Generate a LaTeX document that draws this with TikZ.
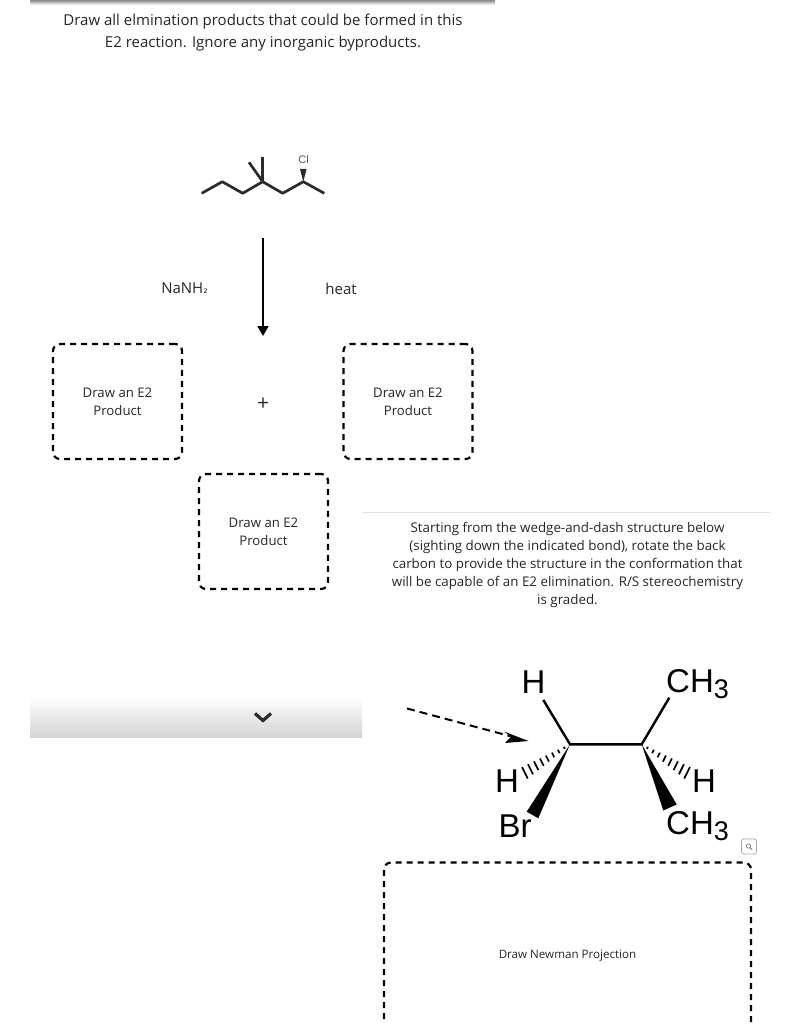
\documentclass[tikz,border=0pt]{standalone}
\usepackage{fontspec}
\setmainfont{Open Sans}
\newfontfamily\chemfont{Liberation Sans}
\newfontfamily\subfont{DejaVu Sans}
\usetikzlibrary{arrows.meta,calc}
\definecolor{ink}{HTML}{2B2B2E}
\definecolor{txt}{HTML}{262626}
\newcommand{\chemsub}[1]{\raisebox{-6pt}{\fontsize{27}{27}\selectfont #1}}
\tikzset{
  prompt/.style={align=center,text=txt,font=\fontsize{15}{21.3}\selectfont,inner sep=0pt},
  small/.style={align=center,text=txt,font=\fontsize{13.2}{18}\selectfont,inner sep=0pt},
  dropbox/.style={draw=black,line width=2.2pt,dash pattern=on 6pt off 5pt,rounded corners=7pt,minimum width=129pt,minimum height=115pt,align=center,text=txt,font=\fontsize{13.2}{18}\selectfont,inner sep=0pt},
  skeleton/.style={draw=ink,line width=2.7pt,line join=round},
  bond/.style={draw=black,line width=2.4pt},
  atom/.style={inner sep=0pt,font=\chemfont\fontsize{33}{33}\selectfont,text=black},
  hashbond/.style={draw=black,line width=1.7pt},
}
\begin{document}
\begin{tikzpicture}[x=1pt,y=-1pt]
\useasboundingbox (0,0) rectangle (793,1024);
\fill[white] (0,0) rectangle (793,1024);
% top and bottom panel bars
\shade[top color=black!45,bottom color=white] (30,0) rectangle (495,5);
\shade[top color=white,bottom color=black!17] (30,697) rectangle (362,737.5);
\draw[black!12,line width=1pt] (363,512) -- (771,512);
% headings
\node[prompt] (title) at (263,32.5) {Draw all elmination products that could be formed in this\\E2 reaction. Ignore any inorganic byproducts.};
\node[small,font=\fontsize{13.35}{18.2}\selectfont] (prompt2) at (567.5,565) {Starting from the wedge-and-dash structure below\\(sighting down the indicated bond), rotate the back\\carbon to provide the structure in the conformation that\\will be capable of an E2 elimination. R/S stereochemistry\\is graded.};
% reactant skeleton
\coordinate (a1) at (201.7,193.3);
\coordinate (a2) at (222.3,181.7);
\coordinate (a3) at (242.7,193.3);
\coordinate (a4) at (262.7,181.7);
\coordinate (a5) at (282.7,193.3);
\coordinate (a6) at (303.3,181.7);
\coordinate (a7) at (324.3,193.3);
\coordinate (m1) at (249,162.3);
\coordinate (m2) at (262.7,157.3);
\draw[skeleton] (a1)--(a2)--(a3)--(a4)--(a5)--(a6)--(a7);
\draw[skeleton] (a4)--(m1);
\draw[skeleton] (a4)--(m2);
\fill[ink] (a6) -- (300,169) -- (306.6,169) -- cycle;
\node[inner sep=0pt,text=black!65,font=\chemfont\fontsize{11}{11}\selectfont] (cl) at (303.5,159.5) {Cl};
% reaction arrow
\coordinate (r1) at (263,238);
\coordinate (r2) at (263,336);
\draw[black,line width=2pt,-{Triangle[length=10pt,width=11pt]}] (r1) -- (r2);
\node[prompt] (reagent) at (184.5,288.5) {NaNH{\subfont\fontsize{11}{11}\selectfont ₂}};
\node[prompt] (heat) at (341,288.5) {heat};
\node[inner sep=0pt,text=ink,font=\fontsize{21}{21}\selectfont] (plus) at (263,404) {+};
% boxes
\node[dropbox] (b1) at (117.5,401.5) {Draw an E2\\Product};
\node[dropbox] (b2) at (408,401.5) {Draw an E2\\Product};
\node[dropbox] (b3) at (263.5,531.5) {Draw an E2\\Product};
% chevron
\draw[ink,line width=3.2pt,line join=miter] (255,713.5) -- (263,720.5) -- (271,713.5);
% dash-wedge molecule
\coordinate (c1) at (570,744.3);
\coordinate (c2) at (641.7,744.3);
\coordinate (t1) at (543.3,700);
\coordinate (t2) at (669.3,697.7);
\coordinate (h1) at (523,774);
\coordinate (h2) at (689,774);
\draw[bond] (t1) -- (c1) -- (c2) -- (t2);
\fill[black] (c1) -- (526.7,811.7) -- (538.3,818.3) -- cycle;
\fill[black] (c2) -- (663.3,810.5) -- (676.7,804.5) -- cycle;
\foreach \f/\w in {0.12/1.2,0.24/2,0.36/2.8,0.48/3.6,0.60/4.4,0.72/5.2,0.84/6,0.96/6.8}{
  \draw[hashbond] ($(c1)!\f!(h1)+(-\w*0.42,-\w*0.84)$) -- ($(c1)!\f!(h1)+(\w*0.42,\w*0.84)$);
  \draw[hashbond] ($(c2)!\f!(h2)+(\w*0.42,-\w*0.84)$) -- ($(c2)!\f!(h2)+(-\w*0.42,\w*0.84)$);
}
\node[atom] (lh1) at (533.5,682) {H};
\node[atom,anchor=west] (lm1) at (666,684) {CH\chemsub{3}};
\node[atom] (lh2) at (507,781) {H};
\node[atom] (lh3) at (704,781) {H};
\node[atom] (lbr) at (515,826) {Br};
\node[atom,anchor=west] (lm2) at (666,826) {CH\chemsub{3}};
% sighting arrow
\coordinate (s1) at (407,708.5);
\coordinate (s2) at (528.5,741);
\draw[black,line width=2pt,dash pattern=on 8pt off 5pt] (s1) -- (512,736.6);
\fill[black] (s2) -- (504,731.5) -- (511,736.8) -- (505,743) -- cycle;
% Newman box
\draw[black,line width=2.2pt,dash pattern=on 6pt off 5pt,rounded corners=7pt] (384,1030) -- (384,862.5) -- (751,862.5) -- (751,1030);
\node[small,font=\fontsize{11.6}{14}\selectfont] (newman) at (567.5,956) {Draw Newman Projection};
% zoom icon
\node[draw=black!35,rounded corners=2.5pt,minimum width=15pt,minimum height=15pt,inner sep=0pt,line width=.7pt] (zoombtn) at (749,846.5) {};
\draw[black!60,line width=.6pt] (748.5,846) circle (2.2pt);
\draw[black!60,line width=.8pt] (750.2,847.8) -- (752.2,849.8);
\end{tikzpicture}
\end{document}
